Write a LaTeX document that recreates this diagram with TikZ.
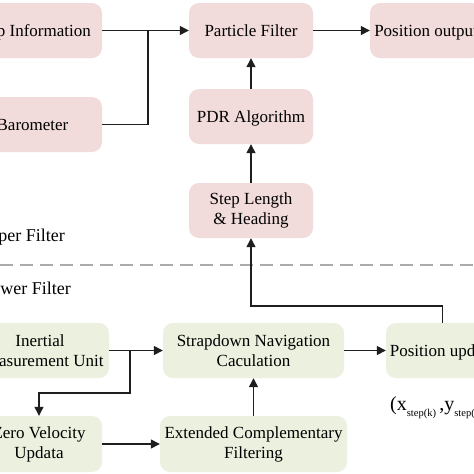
\documentclass[tikz,border=0pt]{standalone}
\usepackage{fontspec}
\setmainfont{Liberation Serif}
\usetikzlibrary{arrows.meta}
\definecolor{pinkbox}{RGB}{242,220,219}
\definecolor{greenbox}{RGB}{235,241,222}
\definecolor{dashgray}{RGB}{170,170,170}
\definecolor{linecol}{RGB}{30,30,30}
\newcommand\mysubtxt[1]{\raisebox{-6.5pt}{\fontsize{10.5}{12}\selectfont #1}}
\tikzset{
  box/.style={rounded corners=10pt, inner sep=0pt, align=center, minimum height=55pt,
    font=\fontsize{17}{20}\selectfont, text=black},
  oneline/.style={text depth=0pt},
  upbox/.style={box, fill=pinkbox},
  lowbox/.style={box, fill=greenbox},
  conn/.style={draw=linecol, line width=1.3pt},
  arr/.style={conn, -{Triangle[length=9pt,width=9pt]}},
  lbl/.style={font=\fontsize{18}{21}\selectfont, inner sep=0pt}
}
\begin{document}
\begin{tikzpicture}[x=1pt,y=-1pt]
\useasboundingbox (0,0) rectangle (474,474);
\fill[white] (0,0) rectangle (474,474);
\clip (0,0) rectangle (474,474);
% upper filter boxes
\node[upbox, oneline, minimum width=139pt] (map) at (32.5,30.5) {Map Information};
\node[upbox, oneline, minimum width=139pt] (baro) at (32.5,124.5) {Barometer};
\node[upbox, oneline, minimum width=124pt] (pf) at (251,30.5) {Particle Filter};
\node[upbox, oneline, minimum width=112pt] (po) at (426,30.5) {Position output};
\node[upbox, oneline, minimum width=124pt] (pdr) at (251,116.5) {PDR Algorithm};
\node[upbox, minimum width=124pt] (step) at (251,210.5) {Step Length\\\& Heading};
% lower filter boxes
\node[lowbox, minimum width=138pt] (imu) at (40,350.5) {Inertial\\Measurement Unit};
\node[lowbox, minimum width=181pt] (sd) at (253.5,350.5) {Strapdown Navigation\\Caculation};
\node[lowbox, oneline, minimum width=113pt] (pu) at (442.5,350.5) {Position update};
\node[lowbox, minimum width=126pt, minimum height=56pt] (zvu) at (39,444) {Zero Velocity\\Updata};
\node[lowbox, minimum width=187pt, minimum height=56pt] (ecf) at (253.5,444) {Extended Complementary\\Filtering};
% labels
\node[lbl, anchor=east] (upper) at (65,237) {Upper Filter};
\node[lbl, anchor=east] (lower) at (71,288) {Lower Filter};
\node[inner sep=0pt, anchor=base west, font=\fontsize{20}{22}\selectfont] (xy) at (390,410)
  {(x\mysubtxt{step(k)}\,,y\mysubtxt{step(k)})};
% dashed separator
\coordinate (dl) at (0,265);
\coordinate (dr) at (474,265);
\draw[dashgray, line width=1.4pt, dash pattern=on 13pt off 7pt] (dl) -- (dr);
% connectors upper
\coordinate (j1) at (148,30.5);
\draw[arr] (map.east) -- (pf.west);
\draw[conn] (baro.east) -| (j1);
\draw[arr] (pf.east) -- (po.west);
\draw[arr] (pdr.north) -- (pf.south);
\draw[arr] (step.north) -- (pdr.south);
\coordinate (j2) at (442.5,306);
\draw[arr] (pu.north) -- (j2) -| (step.south);
% connectors lower
\draw[arr] (imu.east) -- (sd.west);
\coordinate (j3) at (130,350.5);
\coordinate (j4) at (130,393);
\draw[arr] (j3) -- (j4) -| (zvu.north);
\draw[arr] (zvu.east) -- (ecf.west);
\draw[arr] (ecf.north) -- (sd.south);
\draw[arr] (sd.east) -- (pu.west);
\end{tikzpicture}
\end{document}
